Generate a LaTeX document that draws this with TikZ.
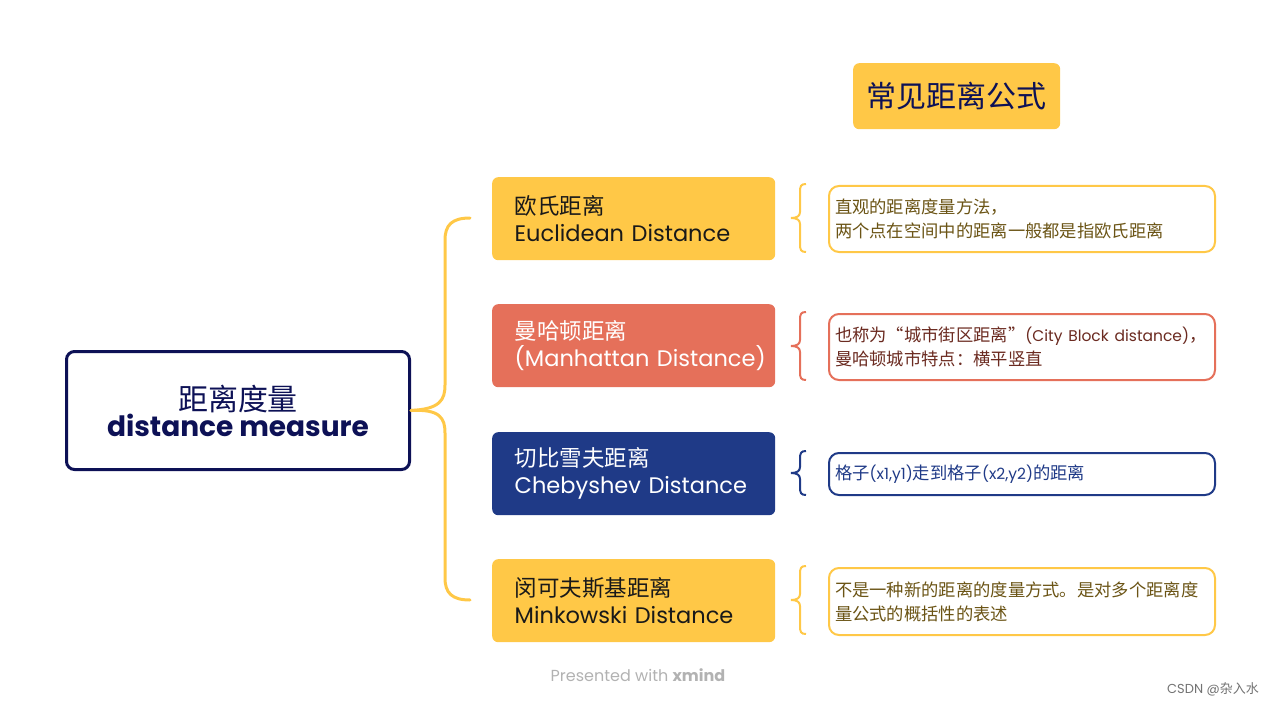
\documentclass[tikz,border=0pt]{standalone}
\usepackage{fontspec}
\setmainfont{Poppins}
\newfontfamily\cjk{Noto Sans CJK SC}
\newcommand\lat[1]{{\fontsize{15.5}{23}\selectfont\rmfamily #1}}
\definecolor{yel}{HTML}{FFC847}
\definecolor{red}{HTML}{E5705A}
\definecolor{blu}{HTML}{1F3A87}
\definecolor{nav}{HTML}{0D1156}
\definecolor{ybr}{HTML}{6B5415}
\definecolor{rbr}{HTML}{6B2A20}
\tikzset{
 br/.style={rounded corners=6pt,minimum width=283pt,minimum height=83pt,anchor=north west,align=left,inner sep=0pt,text width=260pt,font=\fontsize{22.5}{27}\selectfont},
 rb/.style={draw,line width=2pt,fill=white,rounded corners=10pt,minimum width=386pt,anchor=north west,align=left,text width=374pt,inner sep=0pt,font=\cjk\fontsize{17.3}{24}\selectfont},
 brace/.style={line width=2pt},
}
\begin{document}
\begin{tikzpicture}[x=1pt,y=-1pt]
\useasboundingbox (0,0) rectangle (1278,706);
\node[fill=yel,rounded corners=6pt,minimum width=207pt,minimum height=66pt,anchor=north west,text=nav,font=\cjk\fontsize{30}{32}\selectfont] (title) at (853,63) {常见距离公式};
\node[draw=nav,line width=3pt,rounded corners=8pt,minimum width=343pt,minimum height=118pt,anchor=north west,align=center,text=nav,inner sep=0pt] (root) at (65,350) {{\cjk\fontsize{30}{38}\selectfont 距离度量}\\[0pt]{\fontsize{28}{34}\selectfont\bfseries distance measure}};
\draw[yel,line width=3pt,line cap=round] (root.east) .. controls (440,409) and (445,400) .. (445,385) -- (445,240) .. controls (445,225) and (452,218) .. (470,218);
\draw[yel,line width=3pt,line cap=round] (root.east) .. controls (440,409) and (445,418) .. (445,433) -- (445,578) .. controls (445,593) and (452,600) .. (470,600);
% branches
\node[br,fill=yel,text=black!90] (b1) at (492,177) {\hspace*{11pt}\begin{minipage}{270pt}{\cjk 欧氏距离}\\Euclidean Distance\end{minipage}};
\node[br,fill=red,text=white] (b2) at (492,304) {\hspace*{11pt}\begin{minipage}{270pt}{\cjk 曼哈顿距离}\\(Manhattan Distance)\end{minipage}};
\node[br,fill=blu,text=white] (b3) at (492,432) {\hspace*{11pt}\begin{minipage}{270pt}{\cjk 切比雪夫距离}\\Chebyshev Distance\end{minipage}};
\node[br,fill=yel,text=black!90] (b4) at (492,559) {\hspace*{11pt}\begin{minipage}{270pt}{\cjk 闵可夫斯基距离}\\Minkowski Distance\end{minipage}};
% right boxes
\node[rb,draw=yel,text=ybr,minimum height=66pt] (r1) at (828,185) {\begin{minipage}{374pt}直观的距离度量方法，\\两个点在空间中的距离一般都是指欧氏距离\end{minipage}};
\node[rb,draw=red,text=rbr,minimum height=66pt] (r2) at (828,313) {\begin{minipage}{374pt}也称为“城市街区距离”\lat{(City Block distance)}，\\曼哈顿城市特点：横平竖直\end{minipage}};
\node[rb,draw=blu,text=blu,minimum height=42pt] (r3) at (828,452) {格子\lat{(x1,y1)}走到格子\lat{(x2,y2)}的距离};
\node[rb,draw=yel,text=ybr,minimum height=67pt] (r4) at (828,567) {\begin{minipage}{374pt}不是一种新的距离的度量方式。是对多个距离度\\量公式的概括性的表述\end{minipage}};
% small braces
\foreach \t/\m/\b/\c in {184/218/252/yel,312/346/380/red,451/473/495/blu,566/600/634/yel}{
 \draw[\c,brace] (806,\t) .. controls (801,\t) and (800,\t+2) .. (800,\t+8) -- (800,\m-6) .. controls (800,\m-2) and (797,\m) .. (791,\m) .. controls (797,\m) and (800,\m+2) .. (800,\m+6) -- (800,\b-8) .. controls (800,\b-2) and (801,\b) .. (806,\b);
}
\node[text=black!30,font=\fontsize{16}{18}\selectfont] (pw) at (638,675) {Presented with \textbf{xmind}};
\node[text=black!55,font=\fontsize{13}{15}\selectfont] (csdn) at (1213,689) {CSDN @{\cjk 杂入水}};
\end{tikzpicture}
\end{document}
